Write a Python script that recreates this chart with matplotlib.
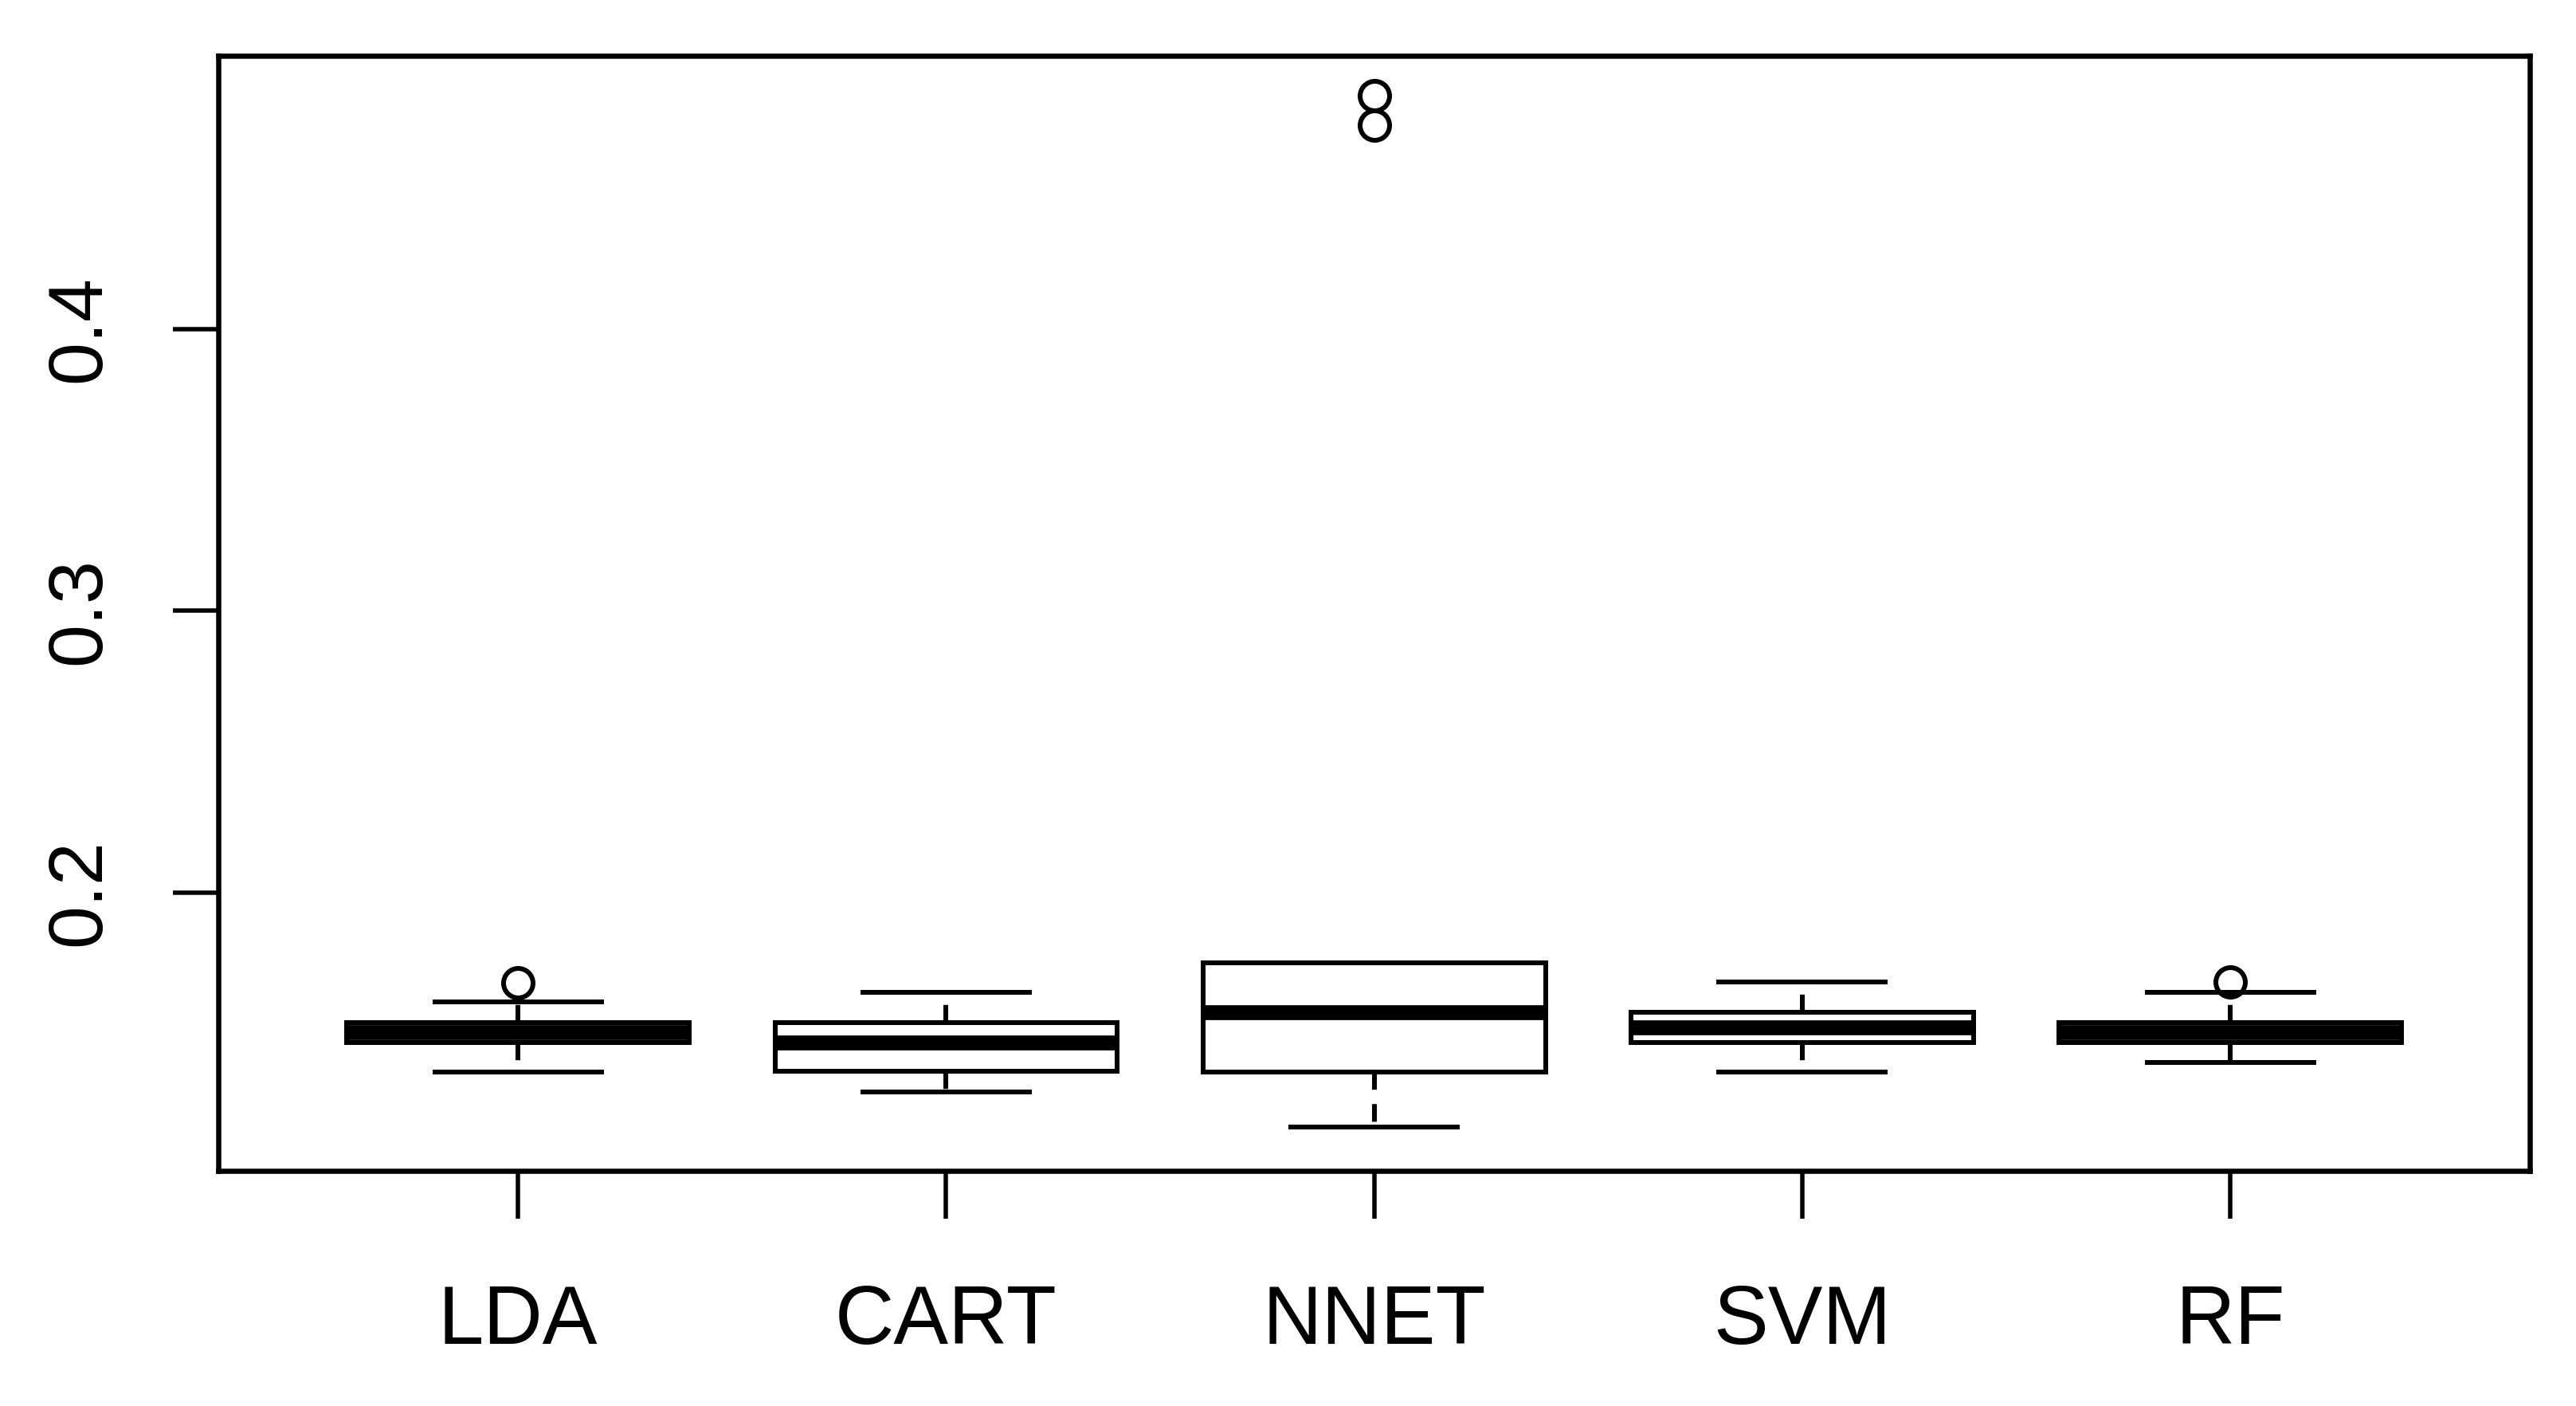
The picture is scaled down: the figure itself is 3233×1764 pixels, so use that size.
import matplotlib
matplotlib.use('Agg')
import matplotlib.pyplot as plt

# summary stats
models = ['LDA', 'CART', 'NNET', 'SVM', 'RF']
q1 = [0.1469, 0.1365, 0.1363, 0.1469, 0.1469]
med = [0.1505, 0.1469, 0.1575, 0.1522, 0.1505]
q3 = [0.1540, 0.1540, 0.1752, 0.1575, 0.1540]
whislo = [0.1363, 0.1292, 0.1169, 0.1363, 0.1398]
whishi = [0.1611, 0.1646, 0.1752, 0.1682, 0.1646]
fliers = [[0.1681], [], [0.4725, 0.4830], [], [0.1682]]
yticks = [0.2, 0.3, 0.4]

DPI = 100


def pt(p):
    # pixels -> points
    return p * 72 / DPI


stats = []
for i, m in enumerate(models):
    stats.append(dict(label=m, q1=q1[i], med=med[i], q3=q3[i],
                      whislo=whislo[i], whishi=whishi[i], fliers=fliers[i]))

fig = plt.figure(figsize=(32.33, 17.64), dpi=DPI)
ax = fig.add_axes([0.0848, 0.1671, 0.9821 - 0.0848, 0.9605 - 0.1671])

lw = pt(6)
ax.bxp(stats, positions=range(1, len(models) + 1), widths=0.8, capwidths=0.4,
       boxprops=dict(color='black', linewidth=lw, solid_joinstyle='miter'),
       whiskerprops=dict(color='black', linewidth=lw, linestyle=(0, (3.7, 3.0))),
       capprops=dict(color='black', linewidth=lw, solid_capstyle='butt'),
       medianprops=dict(color='black', linewidth=pt(18.7), solid_capstyle='butt'),
       flierprops=dict(marker='o', markerfacecolor='none', markeredgecolor='black',
                       markersize=pt(37), markeredgewidth=lw, linestyle='none'))

ax.set_xlim(0.3, 5.7)
ax.set_ylim(0.10119, 0.49712)
ax.set_xticks(range(1, len(models) + 1), models)
ax.set_yticks(yticks, [str(v) for v in yticks])

for s in ax.spines.values():
    s.set_linewidth(pt(6.5))

ax.tick_params(axis='x', length=pt(60), width=pt(5.5), pad=pt(82),
               labelsize=pt(103))
ax.tick_params(axis='y', length=pt(57), width=pt(5.5), pad=pt(72),
               labelsize=pt(97), labelrotation=90)
for lab in ax.get_xticklabels():
    lab.set_family(['Liberation Sans', 'DejaVu Sans'])
for lab in ax.get_yticklabels():
    lab.set_family(['Liberation Sans', 'DejaVu Sans'])
    lab.set_va('center')

fig.savefig('out.png', dpi=DPI)
